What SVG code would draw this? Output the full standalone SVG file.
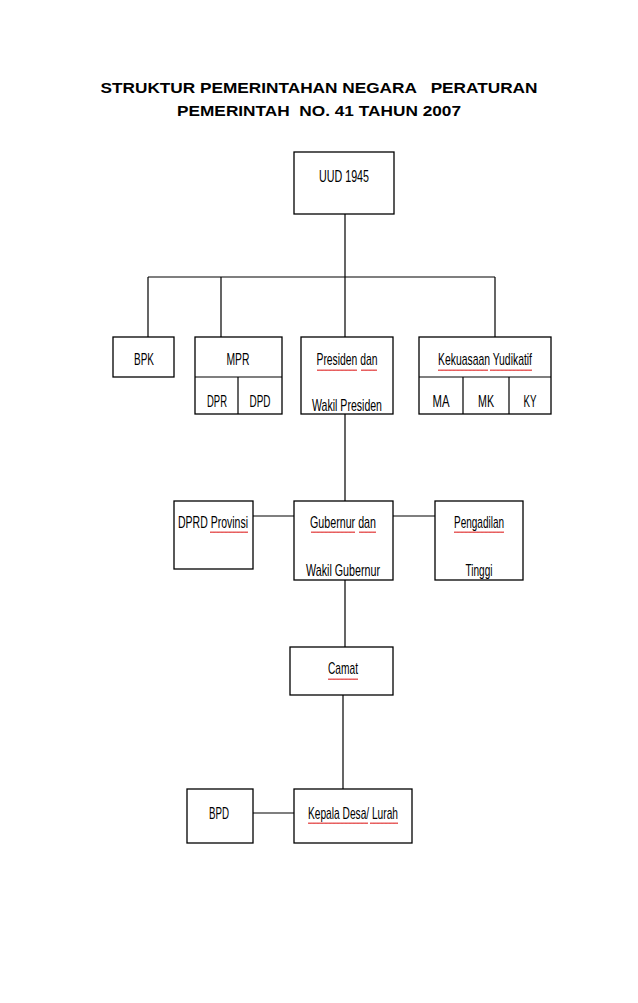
<svg xmlns="http://www.w3.org/2000/svg" width="638" height="1003" viewBox="0 0 638 1003">
<style>
.b{fill:#fff;stroke:#000;stroke-width:1.3}
.l{fill:none;stroke:#000;stroke-width:1.2}
.t{font-family:"Liberation Sans",Arial,sans-serif;font-size:17px;text-anchor:middle;fill:#000}
.h{font-family:"Liberation Sans",Arial,sans-serif;font-size:15.5px;font-weight:bold;text-anchor:middle;fill:#000;white-space:pre}
.w{fill:none;stroke:#e03030;stroke-width:0.9}
</style>
<defs><pattern id="wv" width="4" height="3" patternUnits="userSpaceOnUse"><path d="M0 2 L1 0.5 L2 2 L3 0.5 L4 2" class="w"/></pattern></defs>
<rect width="638" height="1003" fill="#fff"/>
<text class="h" x="319" y="93" textLength="437" lengthAdjust="spacingAndGlyphs" xml:space="preserve">STRUKTUR PEMERINTAHAN NEGARA   PERATURAN</text>
<text class="h" x="319" y="116" textLength="284" lengthAdjust="spacingAndGlyphs" xml:space="preserve">PEMERINTAH  NO. 41 TAHUN 2007</text>
<g id="connectors">
<path class="l" d="M345 214V277M148 277H495M148 277V337M221 277V337M345 277V337M495 277V337M345 414V501M253 516H294M393 516H435M345 580V647M343 695V789M253 813H294"/>
</g>
<g id="uud"><rect class="b" x="294" y="152" width="100" height="62"/><text class="t" x="344" y="182" textLength="50" lengthAdjust="spacingAndGlyphs">UUD 1945</text></g>
<g id="bpk"><rect class="b" x="113" y="337" width="61" height="40"/><text class="t" x="144" y="365" textLength="20" lengthAdjust="spacingAndGlyphs">BPK</text></g>
<g id="mpr"><rect class="b" x="195" y="337" width="87" height="77"/><path class="l" d="M195 377H282M238 377V414"/><text class="t" x="238" y="365" textLength="23" lengthAdjust="spacingAndGlyphs">MPR</text><text class="t" x="217" y="407" textLength="20" lengthAdjust="spacingAndGlyphs">DPR</text><text class="t" x="260" y="407" textLength="21" lengthAdjust="spacingAndGlyphs">DPD</text></g>
<g id="presiden"><rect class="b" x="301" y="337" width="92" height="77"/><text class="t" x="347" y="365" textLength="61" lengthAdjust="spacingAndGlyphs">Presiden dan</text><rect x="317" y="368" width="40" height="3" fill="url(#wv)"/><rect x="361" y="368" width="16" height="3" fill="url(#wv)"/><text class="t" x="347" y="411" textLength="70" lengthAdjust="spacingAndGlyphs">Wakil Presiden</text></g>
<g id="yudikatif"><rect class="b" x="419" y="337" width="132" height="77"/><path class="l" d="M419 377H551M463 377V414M509 377V414"/><text class="t" x="485" y="365" textLength="94" lengthAdjust="spacingAndGlyphs">Kekuasaan Yudikatif</text><rect x="438" y="368" width="50" height="3" fill="url(#wv)"/><rect x="490" y="368" width="42" height="3" fill="url(#wv)"/><text class="t" x="441" y="407" textLength="17" lengthAdjust="spacingAndGlyphs">MA</text><text class="t" x="486" y="407" textLength="16" lengthAdjust="spacingAndGlyphs">MK</text><text class="t" x="530" y="407" textLength="13" lengthAdjust="spacingAndGlyphs">KY</text></g>
<g id="dprd"><rect class="b" x="174" y="501" width="79" height="68"/><text class="t" x="213" y="528" textLength="70" lengthAdjust="spacingAndGlyphs">DPRD Provinsi</text><rect x="210" y="531" width="38" height="3" fill="url(#wv)"/></g>
<g id="gubernur"><rect class="b" x="294" y="501" width="99" height="79"/><text class="t" x="343" y="528" textLength="66" lengthAdjust="spacingAndGlyphs">Gubernur dan</text><rect x="311" y="531" width="44" height="3" fill="url(#wv)"/><rect x="359" y="531" width="17" height="3" fill="url(#wv)"/><text class="t" x="343" y="576" textLength="74" lengthAdjust="spacingAndGlyphs">Wakil Gubernur</text></g>
<g id="pengadilan"><rect class="b" x="435" y="501" width="88" height="79"/><text class="t" x="479" y="528" textLength="50" lengthAdjust="spacingAndGlyphs">Pengadilan</text><rect x="454" y="531" width="50" height="3" fill="url(#wv)"/><text class="t" x="479" y="576" textLength="27" lengthAdjust="spacingAndGlyphs">Tinggi</text></g>
<g id="camat"><rect class="b" x="290" y="647" width="103" height="48"/><text class="t" x="343" y="674" textLength="30" lengthAdjust="spacingAndGlyphs">Camat</text><rect x="328" y="677" width="30" height="3" fill="url(#wv)"/></g>
<g id="bpd"><rect class="b" x="187" y="789" width="66" height="54"/><text class="t" x="219" y="819" textLength="20" lengthAdjust="spacingAndGlyphs">BPD</text></g>
<g id="kepala"><rect class="b" x="294" y="789" width="118" height="54"/><text class="t" x="353" y="819" textLength="90" lengthAdjust="spacingAndGlyphs">Kepala Desa/ Lurah</text><rect x="308" y="822" width="60" height="3" fill="url(#wv)"/><rect x="370" y="822" width="28" height="3" fill="url(#wv)"/></g>
</svg>
